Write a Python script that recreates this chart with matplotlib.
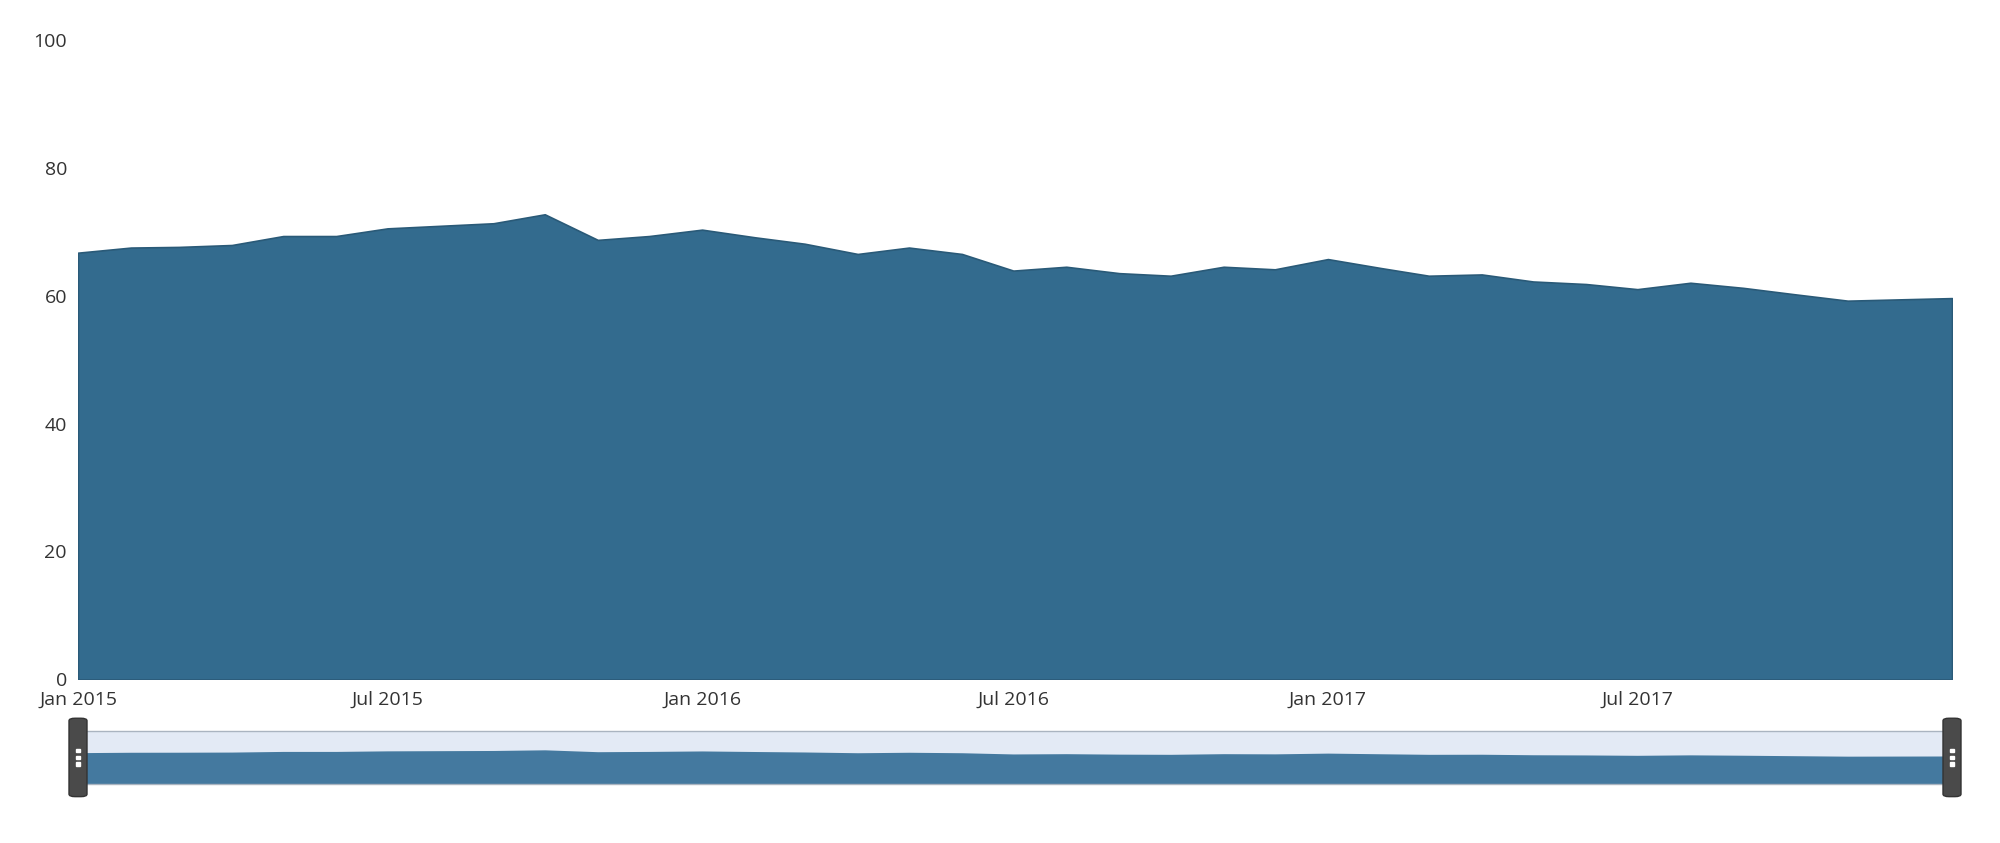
import matplotlib.pyplot as plt
import matplotlib.dates as mdates
from matplotlib.patches import FancyBboxPatch
import numpy as np
import pandas as pd

plt.rcParams['font.family'] = ['Open Sans', 'DejaVu Sans']

dates = pd.date_range('2015-01-01', '2018-01-01', freq='MS')
values = [66.7, 67.5, 67.6, 67.9, 69.3, 69.3, 70.5, 70.9, 71.3, 72.7, 68.7, 69.3,
          70.3, 69.1, 68.1, 66.5, 67.5, 66.5, 63.9, 64.5, 63.5, 63.1, 64.5, 64.1,
          65.7, 64.3, 63.1, 63.3, 62.2, 61.8, 61.0, 62.0, 61.2, 60.2, 59.2, 59.4, 59.6]
tick_dates = pd.to_datetime(['2015-01-01', '2015-07-01', '2016-01-01', '2016-07-01',
                             '2017-01-01', '2017-07-01'])
tick_labels = ['Jan 2015', 'Jul 2015', 'Jan 2016', 'Jul 2016', 'Jan 2017', 'Jul 2017']

fig = plt.figure(figsize=(20, 8.43), dpi=100)
ax = fig.add_axes([0.039, 0.194, 0.937, 0.759])
ax.fill_between(dates, values, 0, color='#336b8e', linewidth=1.2, edgecolor='#2a5a78')
ax.set_xlim(dates[0], dates[-1])
ax.set_ylim(0, 100)
ax.set_yticks([0, 20, 40, 60, 80, 100])
ax.set_xticks(tick_dates)
ax.set_xticklabels(tick_labels)
ax.tick_params(length=0, labelsize=14, colors='#333333', pad=8)
for s in ax.spines.values():
    s.set_visible(False)

# range slider
sl = fig.add_axes([0.039, 0.070, 0.937, 0.063])
sl.set_facecolor('#e3eaf5')
sl.fill_between(dates, values, 0, color='#44799f', linewidth=0)
sl.set_xlim(dates[0], dates[-1])
sl.set_ylim(0, 113)
sl.set_xticks([])
sl.set_yticks([])
for s in sl.spines.values():
    s.set_color('#aab4c0')
    s.set_linewidth(1)

for xf in [0.039, 0.976]:
    h = FancyBboxPatch((xf - 0.0045, 0.055), 0.009, 0.093,
                       boxstyle='round,pad=0,rounding_size=0.003',
                       transform=fig.transFigure, facecolor='#4a4a4a',
                       edgecolor='#333333', zorder=5)
    fig.patches.append(h)
    for dy in [-0.008, 0, 0.008]:
        fig.patches.append(plt.Rectangle((xf - 0.0008, 0.1015 + dy - 0.002), 0.0016, 0.004,
                                         transform=fig.transFigure, color='white', zorder=6))

fig.savefig('out.png')
